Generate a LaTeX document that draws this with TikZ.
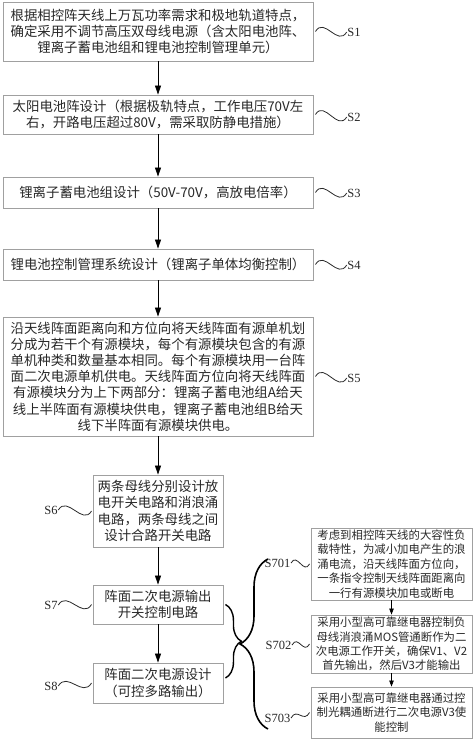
\documentclass[tikz,border=0pt]{standalone}
\usepackage{fontspec}
\setmainfont{Liberation Serif}
\newfontfamily\cjk{Noto Sans CJK SC}
\usetikzlibrary{calc,arrows.meta,decorations.pathreplacing}
\definecolor{boxgray}{RGB}{160,160,160}
\definecolor{txtgray}{RGB}{40,40,40}

\begin{document}
\begin{tikzpicture}[x=1pt,y=1pt,
  box/.style={draw=boxgray, line width=0.9pt, text=txtgray, align=center, inner xsep=2pt, inner ysep=1pt, font=\cjk\fontsize{13.4}{16.2}\selectfont},
  sidebox/.style={box, font=\cjk\fontsize{11.4}{14.4}\selectfont, inner ysep=0.5pt},
  lab/.style={text=txtgray, inner sep=0.5pt, font=\fontsize{12.5}{14}\selectfont},
  wave/.style={txtgray, line width=0.8pt},
  arr/.style={black, line width=0.8pt, -{Triangle[length=9pt,width=6pt]}},
  sarr/.style={black, line width=0.7pt, -{Triangle[length=6pt,width=4.5pt]}},
  curly/.style={black, line width=1.4pt, decorate}]
\useasboundingbox (0,0) rectangle (474,-742);

\node[box, minimum width=310pt, minimum height=59pt] (s1) at (158,-31.5)
  {根据相控阵天线上万瓦功率需求和极地轨道特点，\\确定采用不调节高压双母线电源（含太阳电池阵、\\锂离子蓄电池组和锂电池控制管理单元）};
\node[box, minimum width=310pt, minimum height=39pt] (s2) at (158,-114.5)
  {太阳电池阵设计（根据极轨特点，工作电压70V左\\右，开路电压超过80V，需采取防静电措施）};
\node[box, minimum width=310pt, minimum height=31pt] (s3) at (158,-192.5)
  {锂离子蓄电池组设计（50V-70V，高放电倍率）};
\node[box, minimum width=310pt, minimum height=31pt] (s4) at (158,-264.5)
  {锂电池控制管理系统设计（锂离子单体均衡控制）};
\node[box, minimum width=310pt, minimum height=119pt] (s5) at (158,-376.5)
  {沿天线阵面距离向和方位向将天线阵面有源单机划\\分成为若干个有源模块，每个有源模块包含的有源\\单机种类和数量基本相同。每个有源模块用一台阵\\面二次电源单机供电。天线阵面方位向将天线阵面\\有源模块分为上下两部分：锂离子蓄电池组A给天\\线上半阵面有源模块供电，锂离子蓄电池组B给天\\线下半阵面有源模块供电。};
\node[box, minimum width=130pt, minimum height=72pt] (s6) at (158,-511)
  {两条母线分别设计放\\电开关电路和消浪涌\\电路，两条母线之间\\设计合路开关电路};
\node[box, minimum width=130pt, minimum height=39pt] (s7) at (158,-604.5)
  {阵面二次电源输出\\开关控制电路};
\node[box, minimum width=130pt, minimum height=40pt] (s8) at (158,-683)
  {阵面二次电源设计\\（可控多路输出）};
\node[sidebox, minimum width=161pt, minimum height=72pt] (s701) at (391.5,-564)
  {考虑到相控阵天线的大容性负\\载特性，为减小加电产生的浪\\涌电流，沿天线阵面方位向，\\一条指令控制天线阵面距离向\\一行有源模块加电或断电};
\node[sidebox, minimum width=161pt, minimum height=58pt] (s702) at (391.5,-644)
  {采用小型高可靠继电器控制负\\母线消浪涌MOS管通断作为二\\次电源工作开关，确保V1、V2\\首先输出，然后V3才能输出};
\node[sidebox, minimum width=161pt, minimum height=51pt] (s703) at (391.5,-712.5)
  {采用小型高可靠继电器通过控\\制光耦通断进行二次电源V3使\\能控制};

\node[lab] (l1) at (354,-32) {S1};
\node[lab] (l2) at (354,-117) {S2};
\node[lab] (l3) at (354,-193) {S3};
\node[lab] (l4) at (354,-265) {S4};
\node[lab] (l5) at (354,-378) {S5};
\node[lab] (l6) at (51,-510) {S6};
\node[lab] (l7) at (51,-605) {S7};
\node[lab] (l8) at (51,-686) {S8};
\node[lab] (l701) at (277.5,-563) {S701};
\node[lab] (l702) at (278.5,-645) {S702};
\node[lab] (l703) at (277.5,-718) {S703};

\draw[wave] ($(s1.east)+(2,0)$) .. controls +(9,15) and +(-9,-15) .. (l1.west);
\draw[wave] ($(s2.east)+(2,0)$) .. controls +(9,15) and +(-9,-15) .. (l2.west);
\draw[wave] ($(s3.east)+(2,0)$) .. controls +(9,15) and +(-9,-15) .. (l3.west);
\draw[wave] ($(s4.east)+(2,0)$) .. controls +(9,15) and +(-9,-15) .. (l4.west);
\draw[wave] ($(s5.east)+(2,0)$) .. controls +(9,15) and +(-9,-15) .. (l5.west);
\draw[wave] (l6.east) .. controls +(9,15) and +(-9,-15) .. ($(s6.west)+(-1,0)$);
\draw[wave] (l7.east) .. controls +(9,15) and +(-9,-15) .. ($(s7.west)+(-1,0)$);
\draw[wave] (l8.east) .. controls +(9,15) and +(-9,-15) .. ($(s8.west)+(-1,0)$);
\draw[wave] (l701.east) .. controls +(6,11) and +(-6,-11) .. ($(s701.west)+(-1,0)$);
\draw[wave] (l702.east) .. controls +(6,11) and +(-6,-11) .. ($(s702.west)+(-1,0)$);
\draw[wave] (l703.east) .. controls +(6,11) and +(-6,-11) .. ($(s703.west)+(-1,0)$);

\draw[arr] (s1) -- (s2);
\draw[arr] (s2) -- (s3);
\draw[arr] (s3) -- (s4);
\draw[arr] (s4) -- (s5);
\draw[arr] (s5) -- (s6);
\draw[arr] (s6) -- (s7);
\draw[arr] (s7) -- (s8);
\draw[sarr] (s701) -- (s702);
\draw[sarr] (s702) -- (s703);

\coordinate (bt) at (268,-559);
\coordinate (bb) at (268,-729);
\draw[curly, decoration={brace, amplitude=16pt}] ($(s7.east)+(2,0)$) -- ($(s8.east)+(2,5)$);
\draw[curly, line width=1.6pt, decoration={brace, amplitude=28pt}] (bb) -- (bt);
\end{tikzpicture}
\end{document}
